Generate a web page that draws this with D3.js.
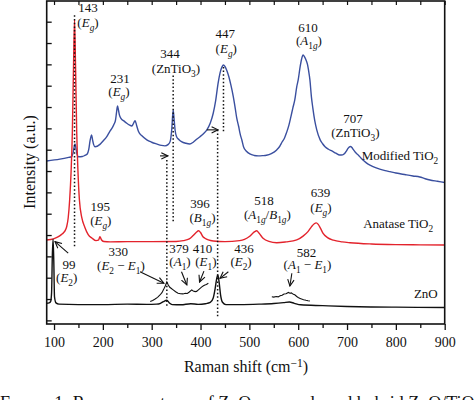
<!DOCTYPE html>
<html><head><meta charset="utf-8">
<script src="https://cdn.jsdelivr.net/npm/d3@7"></script>
<style>
body{margin:0;background:#fff}
svg{display:block}
text{font-family:"Liberation Serif","DejaVu Serif",serif;fill:#111}
</style>
</head><body>
<svg id="c" width="474" height="400"></svg>
<script>
// ---- data (Raman shift cm^-1, intensity a.u.) ----
const modifiedTiO2 = [[85,7.47],[112,7.56],[130,7.64],[136,7.67],[139,7.85],[141,8.1],[143,8.27],[145,8.05],[147,7.8],[150,7.67],[158,7.68],[163,7.73],[168,7.80],[171,8.0],[174,8.45],[177,8.69],[179,8.45],[181,8.25],[184,8.14],[194,8.25],[201,8.42],[208,8.61],[214,8.85],[219,9.02],[223,9.2],[226,9.4],[228,9.75],[230,10.05],[232,9.85],[234,9.62],[237,9.47],[243,9.35],[249,9.24],[255,9.15],[259,9.11],[262,9.2],[266,9.36],[269,9.15],[273,8.85],[280,8.65],[290,8.46],[300,8.35],[310,8.27],[320,8.2],[327,8.18],[334,8.25],[338,8.4],[341,8.93],[344,9.86],[346,9.4],[348,8.9],[351,8.61],[356,8.47],[361,8.38],[370,8.3],[378,8.27],[385,8.35],[392,8.49],[399,8.61],[406,8.75],[413,8.93],[420,9.25],[426,9.71],[431,10.3],[436,11.12],[440,11.6],[444,11.88],[447,11.97],[450,11.9],[454,11.7],[458,11.42],[462,11.05],[467,10.5],[471,9.95],[474,9.5],[478,9.1],[481,8.75],[485,8.42],[488,8.14],[494,7.93],[501,7.80],[510,7.73],[518,7.71],[527,7.72],[535,7.74],[545,7.82],[556,7.99],[562,8.15],[567,8.36],[572,8.55],[576,8.79],[581,9.15],[585,9.54],[589,9.95],[593,10.33],[597,10.95],[600,11.27],[604,11.89],[607,12.25],[610,12.44],[613,12.35],[616,12.21],[619,12.0],[621,11.75],[624,11.27],[627,10.49],[630,9.95],[634,9.35],[638,8.93],[645,8.46],[650,8.28],[655,8.14],[662,8.02],[669,7.94],[677,7.84],[685,7.75],[691,7.76],[695,7.82],[699,7.95],[702,8.06],[705,8.13],[707,8.15],[710,8.1],[713,8.0],[717,7.88],[723,7.75],[729,7.6],[735,7.47],[741,7.36],[747,7.28],[757,7.17],[767,7.09],[778,7.02],[788,6.97],[800,6.91],[811,6.86],[822,6.82],[835,6.77],[849,6.72],[860,6.64],[870,6.58],[885,6.52],[900,6.46]];

const anataseTiO2 = [[85,3.77],[99,3.82],[108,3.91],[115,4.02],[119,4.10],[123,4.22],[126,4.4],[129,4.8],[132,5.64],[135,7.0],[137.5,8.8],[140,12.0],[142,14.1],[144,12.0],[146.5,8.8],[149,7.0],[152,5.64],[157,4.8],[163,4.37],[170,4.02],[178,3.85],[186,3.74],[191,3.76],[194,3.92],[197,3.78],[202,3.70],[215,3.68],[250,3.69],[300,3.69],[350,3.7],[365,3.74],[377,3.82],[385,3.98],[391,4.12],[396,4.2],[400,4.12],[405,3.92],[409,3.85],[416,3.77],[426,3.72],[450,3.69],[480,3.74],[490,3.8],[500,3.93],[506,4.06],[511,4.16],[515,4.2],[520,4.08],[528,3.85],[540,3.7],[556,3.64],[575,3.68],[597,3.77],[610,3.95],[620,4.16],[627,4.38],[633,4.53],[637,4.57],[641,4.5],[646,4.3],[651,4.08],[660,3.88],[672,3.76],[690,3.68],[706,3.64],[750,3.58],[800,3.55],[850,3.54],[900,3.53]];

const znO = [[85,0.80],[90,0.82],[93,0.88],[95,1.3],[96.5,3.0],[98,3.8],[99.5,2.8],[101,1.1],[104,0.82],[110,0.76],[150,0.74],[200,0.74],[250,0.76],[290,0.75],[310,0.76],[318,0.8],[324,0.88],[331,0.94],[336,0.82],[342,0.74],[360,0.73],[380,0.78],[395,0.75],[410,0.78],[420,0.84],[426,1.05],[430,1.5],[433,1.95],[435.5,2.13],[438,1.8],[441,1.2],[445,0.85],[452,0.74],[480,0.74],[520,0.76],[550,0.79],[570,0.83],[582,0.86],[592,0.8],[605,0.73],[650,0.69],[700,0.65],[750,0.63],[800,0.62],[900,0.6]];

const znOZoomLow = [[297,0.88],[302,0.93],[307,1.0],[312,1.08],[317,1.19],[321,1.3],[324,1.43],[328,1.62],[331,1.80],[334,1.66],[337,1.55],[341,1.48],[344,1.43],[349,1.34],[354,1.27],[359,1.25],[364,1.24],[369,1.27],[373,1.26],[377,1.33],[382,1.43],[385,1.38],[389,1.35],[392,1.36],[395,1.42],[398,1.48],[402,1.56],[406,1.62],[409,1.66],[412,1.68],[416,1.74]];
const znOZoomHigh = [[546,1.11],[550,1.09],[555,1.12],[559,1.1],[563,1.15],[567,1.18],[571,1.24],[575,1.25],[580,1.31],[583,1.27],[586,1.29],[590,1.22],[593,1.2],[597,1.12],[600,1.07],[604,1.03],[607,1.0],[611,0.97],[616,0.94],[620,0.92],[624,0.91]];

const xTickLabels = [100,200,300,400,500,600,700,800,900];
const xMinorTicks = [150,250,350,450,550,650,750,850];
const yTickValues = [0,1,2,3,4,5,6,7,8,9,10,11,12,13,14];

// dotted guide lines: [shift, intensity top, intensity bottom]
const guides = [[142,14.3,3.4],[344,11.48,4.57],[331,7.52,0.68],[435,8.93,0.17],[447,11.88,8.79]];
// arrows: [shift1, int1, shift2, int2] (tail -> head)
const arrows = [[317,7.71,333,7.71],[413,8.93,436,8.93],[129,3.15,102,3.69],[276,2.28,325,1.74],[361,2.28,372,1.66],[407,2.31,398,1.80],[457,2.28,440,1.97],[587,2.21,583,1.61]];
// labels: [text, shift, intensity, anchor]
const labels = [
 ["143",169.6,14.47,"middle"],["(*E*_{*g*})",169.6,13.76,"middle"],
 ["231",235,11.13,"middle"],["(*E*_{*g*})",233,10.52,"middle"],
 ["344",337.5,12.29,"middle"],["(ZnTiO_{3})",349.7,11.60,"middle"],
 ["447",450.7,13.24,"middle"],["(*E*_{*g*})",452.7,12.54,"middle"],
 ["610",620,13.54,"middle"],["(*A*_{1*g*})",622,12.91,"middle"],
 ["707",712,9.26,"middle"],["(ZnTiO_{3})",717,8.60,"middle"],
 ["Modified TiO_{2}",730,7.52,"start"],
 ["195",194.7,5.14,"middle"],["(*E*_{*g*})",195.8,4.47,"middle"],
 ["396",399,5.26,"middle"],["(*B*_{1*g*})",404,4.61,"middle"],
 ["518",530,5.41,"middle"],["(*A*_{1*g*}/*B*_{1*g*})",537,4.77,"middle"],
 ["639",645.6,5.80,"middle"],["(*E*_{*g*})",646.6,5.08,"middle"],
 ["Anatase TiO_{2}",733,4.35,"start"],
 ["330",231.6,3.02,"middle"],["(*E*_{2} − *E*_{1})",237,2.36,"middle"],
 ["99",130.7,2.41,"middle"],["(*E*_{2})",126,1.82,"middle"],
 ["379",356,3.16,"middle"],["(*A*_{1})",358,2.55,"middle"],
 ["410",404,3.16,"middle"],["(*E*_{1})",411,2.55,"middle"],
 ["436",489,3.16,"middle"],["(*E*_{2})",483,2.55,"middle"],
 ["582",617,2.99,"middle"],["(*A*_{1} − *E*_{1})",619,2.41,"middle"],
 ["ZnO",837,1.05,"start"]
];

// ---- drawing ----
const svg = d3.select("#c");
const x = d3.scaleLinear().domain([85,900]).range([46.7,444.7]);
const y = d3.scaleLinear().domain([-0.17,14.97]).range([324,1]);

const defs = svg.append("defs");
defs.append("marker").attr("id","ah").attr("viewBox","0 0 8 8").attr("refX",7).attr("refY",4)
  .attr("markerWidth",8).attr("markerHeight",8).attr("markerUnits","userSpaceOnUse").attr("orient","auto")
  .append("path").attr("d","M0.5,0.8 L7,4 L0.5,7.2").attr("fill","none").attr("stroke","#111").attr("stroke-width",1.1);
defs.append("clipPath").attr("id","clip").append("rect")
  .attr("x",x(85)).attr("y",y(14.97)).attr("width",x(900)-x(85)).attr("height",y(-0.17)-y(14.97));

const line = d3.line().x(d=>x(d[0])).y(d=>y(d[1])).curve(d3.curveMonotoneX);
const g = svg.append("g").attr("clip-path","url(#clip)");

g.append("path").datum(modifiedTiO2).attr("d",line).attr("fill","none").attr("stroke","#3a4f9f").attr("stroke-width",1.4);
g.append("path").datum(anataseTiO2).attr("d",line).attr("fill","none").attr("stroke","#e3232c").attr("stroke-width",1.4);
g.append("path").datum(znO).attr("d",line).attr("fill","none").attr("stroke","#111").attr("stroke-width",1.4);
[znOZoomLow,znOZoomHigh].forEach(s=>{
  g.append("path").datum(s).attr("d",d3.line().x(d=>x(d[0])).y(d=>y(d[1]))).attr("fill","none").attr("stroke","#111").attr("stroke-width",1.1);
});

guides.forEach(d=>{
  svg.append("line").attr("x1",x(d[0])).attr("x2",x(d[0])).attr("y1",y(d[1])).attr("y2",y(d[2]))
    .attr("stroke","#111").attr("stroke-width",1.5).attr("stroke-dasharray","1.5,2.2");
});
arrows.forEach(d=>{
  svg.append("line").attr("x1",x(d[0])).attr("y1",y(d[1])).attr("x2",x(d[2])).attr("y2",y(d[3]))
    .attr("stroke","#111").attr("stroke-width",1.1).attr("marker-end","url(#ah)");
});

function rich(sel, str, size){
  const parts = str.split(/(_\{[^}]*\}|\^\{[^}]*\})/).filter(s=>s.length);
  let shift = 0;
  parts.forEach(p=>{
    let sub = 0, body = p;
    if (p.startsWith("_{")) {sub = 1; body = p.slice(2,-1);}
    else if (p.startsWith("^{")) {sub = -1; body = p.slice(2,-1);}
    const target = sub ? size*0.33*sub : 0;
    const dy = target - shift;
    shift = target;
    const segs = body.split(/(\*[^*]*\*)/).filter(s=>s.length);
    segs.forEach((s,i)=>{
      const it = s.startsWith("*");
      const t = sel.append("tspan").text(it ? s.slice(1,-1) : s);
      if (i===0 && dy) t.attr("dy",dy);
      if (it) t.attr("font-style","italic");
      if (sub) t.attr("font-size",size*0.72);
    });
  });
}

labels.forEach(d=>{
  const t = svg.append("text").attr("x",x(d[1])).attr("y",y(d[2])).attr("text-anchor",d[3]).attr("font-size",13);
  rich(t,d[0],13);
});

// axes
const ax = svg.append("g").attr("transform",`translate(0,${y(-0.17)})`)
  .call(d3.axisBottom(x).tickValues(xTickLabels).tickSize(6).tickSizeOuter(0).tickPadding(7));
ax.selectAll("text").attr("font-size",14).attr("fill","#111");
ax.selectAll("line").attr("stroke","#111").attr("stroke-width",1.3);
ax.select(".domain").remove();
const axm = svg.append("g").attr("transform",`translate(0,${y(-0.17)})`)
  .call(d3.axisBottom(x).tickValues(xMinorTicks).tickSize(4).tickFormat(""));
axm.selectAll("line").attr("stroke","#111").attr("stroke-width",1.3);
axm.select(".domain").remove();
const axt = svg.append("g").attr("transform",`translate(0,${y(14.97)})`)
  .call(d3.axisTop(x).tickValues(xTickLabels.concat(xMinorTicks)).tickSize(-4).tickFormat(""));
axt.selectAll("line").attr("stroke","#111").attr("stroke-width",1.2);
axt.select(".domain").remove();
const ay = svg.append("g").attr("transform",`translate(${x(85)},0)`)
  .call(d3.axisLeft(y).tickValues(yTickValues).tickSize(-5).tickFormat(""));
ay.selectAll("line").attr("stroke","#111").attr("stroke-width",1.3);
ay.select(".domain").remove();

svg.append("rect").attr("x",x(85)).attr("y",y(14.97)).attr("width",x(900)-x(85)).attr("height",y(-0.17)-y(14.97))
  .attr("fill","none").attr("stroke","#111").attr("stroke-width",1.6);

// axis titles
const xt = svg.append("text").attr("x",246).attr("y",372).attr("text-anchor","middle").attr("font-size",16);
rich(xt,"Raman shift (cm^{−1}",16);
xt.append("tspan").attr("dy",16*0.33).text(")");
svg.append("text").attr("transform","translate(35,162) rotate(-90)").attr("text-anchor","middle")
  .attr("font-size",16).text("Intensity (a.u.)");

// caption (cut off at the bottom edge, as in the reference)
const cap = svg.append("text").attr("x",0).attr("y",409).attr("font-size",18);
cap.append("tspan").attr("font-variant","small-caps").text("Figure 1");
rich(cap,": Raman spectrum of ZnO nanorods and hybrid ZnO/TiO_{2}",18);
</script>
</body></html>
